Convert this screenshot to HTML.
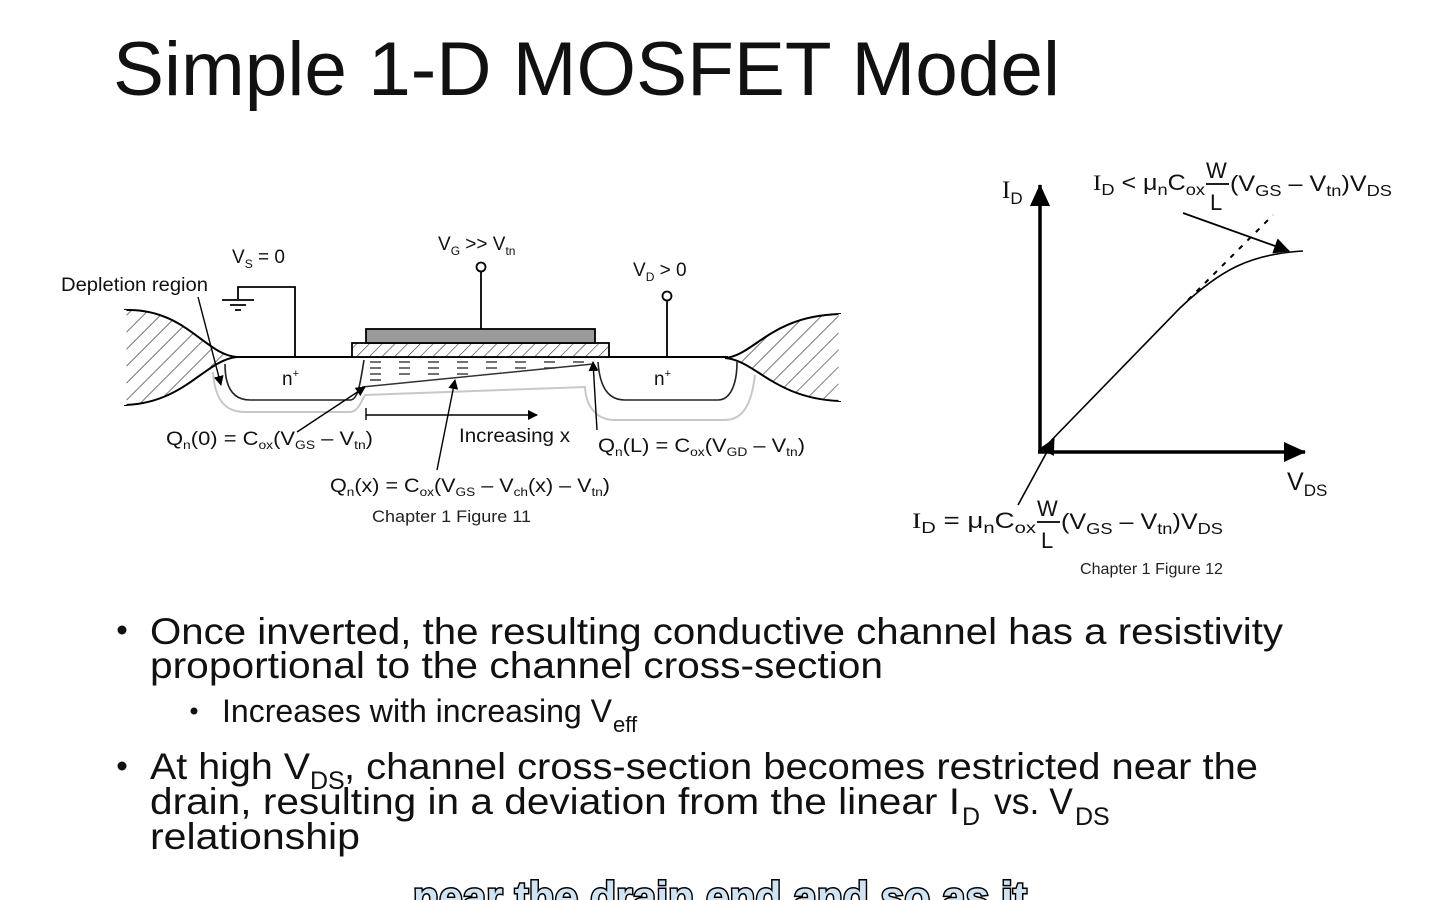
<!DOCTYPE html>
<html><head><meta charset="utf-8"><style>
html,body{margin:0;padding:0;background:#fff;width:1440px;height:900px;overflow:hidden}
svg{display:block}
</style></head><body>
<svg width="1440" height="900" viewBox="0 0 1440 900" xmlns="http://www.w3.org/2000/svg" font-family="Liberation Sans, Arial, sans-serif">
<defs>
<pattern id="h" patternUnits="userSpaceOnUse" width="12" height="12" patternTransform="rotate(45)">
<rect width="12" height="12" fill="#fff"/><line x1="0" y1="0" x2="0" y2="12" stroke="#333" stroke-width="1.3"/>
</pattern>
<pattern id="h2" patternUnits="userSpaceOnUse" width="9" height="9" patternTransform="rotate(45)">
<rect width="9" height="9" fill="#fff"/><line x1="0" y1="0" x2="0" y2="9" stroke="#333" stroke-width="1.2"/>
</pattern>
<marker id="a" markerWidth="10" markerHeight="10" refX="9" refY="5" orient="auto" markerUnits="userSpaceOnUse"><path d="M0,0 L10,5 L0,10z" fill="#000"/></marker>
<marker id="b" markerWidth="16" markerHeight="16" refX="15" refY="8" orient="auto" markerUnits="userSpaceOnUse"><path d="M0,0 L16,8 L0,16z" fill="#000"/></marker>
<marker id="c" markerWidth="22" markerHeight="20" refX="21" refY="10" orient="auto" markerUnits="userSpaceOnUse"><path d="M0,0 L22,10 L0,20z" fill="#000"/></marker>
</defs>

<text x="113" y="95" font-size="76" textLength="947" lengthAdjust="spacingAndGlyphs" fill="#111">Simple 1-D MOSFET Model</text>

<!-- MOSFET cross-section -->
<g fill="none" stroke="#000" stroke-width="2">
<path d="M125,310 C185,308 205,355 237,357 C205,360 185,403 125,405 Z" fill="url(#h)"/>
<path d="M840,314 C770,316 755,355 725,358 C755,360 775,399 840,401 Z" fill="url(#h)"/>
</g>
<path d="M125,310 L125,405" stroke="#fff" stroke-width="3"/>
<path d="M840,314 L840,401" stroke="#fff" stroke-width="3"/>
<path d="M213,372 C215,400 225,412 245,412 L350,412 C358,412 362,400 365,395 L585,387 C586,405 595,420 615,420 L725,420 C745,420 752,400 755,375" fill="none" stroke="#c8c8c8" stroke-width="2"/>
<g fill="none" stroke="#222" stroke-width="1.6">
<path d="M225,364 C225,390 235,400 250,400 L350,400 C358,400 360,385 364,360"/>
<path d="M598,362 C600,390 610,400 625,400 L718,400 C730,400 737,385 737,362"/>
</g>
<line x1="232" y1="357" x2="728" y2="357" stroke="#000" stroke-width="2"/>
<rect x="352" y="343" width="257" height="14" fill="url(#h2)" stroke="#000" stroke-width="1.8"/>
<rect x="366" y="329" width="229" height="14" fill="#9a9a9a" stroke="#000" stroke-width="1.8"/>
<g stroke="#444" stroke-width="1.6">
<path d="M370,362h11M399,362h11M428,362h11M457,362h11M486,362h11M515,362h11M544,362h11M573,362h11"/>
<path d="M370,368h11M399,368h11M428,368h11M457,368h11M486,368h11M515,368h11M544,368h11"/>
<path d="M370,374h11M399,374h11M428,374h11M457,374h11"/>
<path d="M370,380h11"/>
</g>
<line x1="362" y1="387" x2="593" y2="364" stroke="#333" stroke-width="1.5"/>
<g stroke="#000" stroke-width="1.8" fill="none">
<path d="M295,357 V287 H238 V299"/>
<path d="M222,300 H254 M230,305 H246 M235,310 H241"/>
<line x1="481" y1="329" x2="481" y2="272"/>
<circle cx="481" cy="267" r="4.5" fill="#fff"/>
<line x1="667" y1="357" x2="667" y2="301"/>
<circle cx="667" cy="296" r="4.5" fill="#fff"/>
</g>
<g stroke="#000" stroke-width="1.4" fill="none">
<line x1="198" y1="297" x2="221" y2="385" marker-end="url(#a)"/>
<line x1="297" y1="432" x2="365" y2="387" marker-end="url(#a)"/>
<line x1="437" y1="470" x2="455" y2="380" marker-end="url(#a)"/>
<line x1="597" y1="430" x2="593" y2="362" marker-end="url(#a)"/>
<line x1="366" y1="408" x2="366" y2="420"/>
<line x1="366" y1="415" x2="537" y2="415" marker-end="url(#a)"/>
</g>
<g font-size="19" fill="#111">
<text x="61" y="291" textLength="147" lengthAdjust="spacingAndGlyphs">Depletion region</text>
<text x="232" y="263">V<tspan font-size="12" dy="5">S</tspan><tspan dy="-5"> = 0</tspan></text>
<text x="438" y="250">V<tspan font-size="12" dy="5">G</tspan><tspan dy="-5"> &gt;&gt; V</tspan><tspan font-size="12" dy="5">tn</tspan></text>
<text x="633" y="276">V<tspan font-size="12" dy="5">D</tspan><tspan dy="-5"> &gt; 0</tspan></text>
<text x="282" y="385">n<tspan font-size="11" dy="-8">+</tspan></text>
<text x="654" y="385">n<tspan font-size="11" dy="-8">+</tspan></text>
<text x="459" y="442" textLength="111" lengthAdjust="spacingAndGlyphs">Increasing x</text>
<text x="166" y="445" textLength="207" lengthAdjust="spacingAndGlyphs">Q<tspan font-size="12" dy="4">n</tspan><tspan dy="-4">(0) = C</tspan><tspan font-size="12" dy="4">ox</tspan><tspan dy="-4">(V</tspan><tspan font-size="12" dy="4">GS</tspan><tspan dy="-4"> – V</tspan><tspan font-size="12" dy="4">tn</tspan><tspan dy="-4">)</tspan></text>
<text x="598" y="452" textLength="207" lengthAdjust="spacingAndGlyphs">Q<tspan font-size="12" dy="4">n</tspan><tspan dy="-4">(L) = C</tspan><tspan font-size="12" dy="4">ox</tspan><tspan dy="-4">(V</tspan><tspan font-size="12" dy="4">GD</tspan><tspan dy="-4"> – V</tspan><tspan font-size="12" dy="4">tn</tspan><tspan dy="-4">)</tspan></text>
<text x="330" y="492" textLength="280" lengthAdjust="spacingAndGlyphs">Q<tspan font-size="12" dy="4">n</tspan><tspan dy="-4">(x) = C</tspan><tspan font-size="12" dy="4">ox</tspan><tspan dy="-4">(V</tspan><tspan font-size="12" dy="4">GS</tspan><tspan dy="-4"> – V</tspan><tspan font-size="12" dy="4">ch</tspan><tspan dy="-4">(x) – V</tspan><tspan font-size="12" dy="4">tn</tspan><tspan dy="-4">)</tspan></text>
</g>
<text x="372" y="522" font-size="17" fill="#222" textLength="159" lengthAdjust="spacingAndGlyphs">Chapter 1 Figure 11</text>

<!-- Graph -->
<g stroke="#000" fill="none">
<line x1="1040" y1="453" x2="1040" y2="185" stroke-width="3.5" marker-end="url(#c)"/>
<line x1="1038" y1="452" x2="1305" y2="452" stroke-width="3.5" marker-end="url(#c)"/>
<path d="M1040,452 L1180,308 C1220,270 1250,254 1303,251" stroke-width="1.6"/>
<line x1="1188" y1="300" x2="1273" y2="215" stroke-width="2" stroke-dasharray="5,7"/>
<line x1="1183" y1="213" x2="1289" y2="251" stroke-width="1.8" marker-end="url(#b)"/>
<line x1="1018" y1="505" x2="1054" y2="439" stroke-width="1.6" marker-end="url(#b)"/>
</g>
<g font-size="22" fill="#111">
<text x="1002" y="198" font-family="Liberation Serif, serif" font-size="25">I<tspan font-family="Liberation Sans, sans-serif" font-size="17" dy="6">D</tspan></text>
<text x="1287" y="490" font-size="25">V<tspan font-size="17" dy="6">DS</tspan></text>
<text x="1093" y="190" textLength="112" lengthAdjust="spacingAndGlyphs"><tspan font-family="Liberation Serif, serif">I</tspan><tspan font-size="16" dy="5">D</tspan><tspan dy="-5"> &lt; μ</tspan><tspan font-size="16" dy="5">n</tspan><tspan dy="-5">C</tspan><tspan font-size="16" dy="5">ox</tspan></text>
<text x="1206" y="178">W</text>
<line x1="1206" y1="184" x2="1229" y2="184" stroke="#000" stroke-width="1.8"/>
<text x="1210" y="210">L</text>
<text x="1230" y="191" textLength="162" lengthAdjust="spacingAndGlyphs">(V<tspan font-size="16" dy="5">GS</tspan><tspan dy="-5"> – V</tspan><tspan font-size="16" dy="5">tn</tspan><tspan dy="-5">)V</tspan><tspan font-size="16" dy="5">DS</tspan></text>
<text x="912" y="528" textLength="124" lengthAdjust="spacingAndGlyphs"><tspan font-family="Liberation Serif, serif">I</tspan><tspan font-size="16" dy="5">D</tspan><tspan dy="-5">  =  μ</tspan><tspan font-size="16" dy="5">n</tspan><tspan dy="-5">C</tspan><tspan font-size="16" dy="5">ox</tspan></text>
<text x="1037" y="516">W</text>
<line x1="1037" y1="522" x2="1060" y2="522" stroke="#000" stroke-width="1.8"/>
<text x="1041" y="548">L</text>
<text x="1061" y="529" textLength="162" lengthAdjust="spacingAndGlyphs">(V<tspan font-size="16" dy="5">GS</tspan><tspan dy="-5"> – V</tspan><tspan font-size="16" dy="5">tn</tspan><tspan dy="-5">)V</tspan><tspan font-size="16" dy="5">DS</tspan></text>
</g>
<text x="1080" y="574" font-size="16" fill="#222" textLength="143" lengthAdjust="spacingAndGlyphs">Chapter 1 Figure 12</text>

<!-- Bullets -->
<g fill="#111">
<circle cx="122" cy="630" r="4.5"/>
<text x="150" y="644" font-size="37" textLength="1133" lengthAdjust="spacingAndGlyphs">Once inverted, the resulting conductive channel has a resistivity</text>
<text x="150" y="678" font-size="37" textLength="733" lengthAdjust="spacingAndGlyphs">proportional to the channel cross-section</text>
<circle cx="194" cy="711" r="3.5"/>
<text x="222" y="722" font-size="32" textLength="390" lengthAdjust="spacingAndGlyphs">Increases with increasing V</text>
<text x="613" y="732" font-size="22">eff</text>
<circle cx="122" cy="766" r="4.5"/>
<text x="150" y="779" font-size="37" textLength="160" lengthAdjust="spacingAndGlyphs">At high V</text>
<text x="310" y="789" font-size="25">DS</text>
<text x="344" y="779" font-size="37" textLength="914" lengthAdjust="spacingAndGlyphs">, channel cross-section becomes restricted near the</text>
<text x="150" y="814" font-size="37" textLength="810" lengthAdjust="spacingAndGlyphs">drain, resulting in a deviation from the linear I</text>
<text x="962" y="825" font-size="25">D</text>
<text x="994" y="814" font-size="37" textLength="79" lengthAdjust="spacingAndGlyphs">vs. V</text>
<text x="1075" y="825" font-size="25">DS</text>
<text x="150" y="849" font-size="37" textLength="210" lengthAdjust="spacingAndGlyphs">relationship</text>
</g>

<!-- subtitle -->
<text x="413" y="912" font-size="44" font-weight="bold" fill="#cfe3f2" stroke="#000" stroke-width="3" paint-order="stroke" textLength="614" lengthAdjust="spacingAndGlyphs">near the drain end and so as it</text>
</svg>
</body></html>
